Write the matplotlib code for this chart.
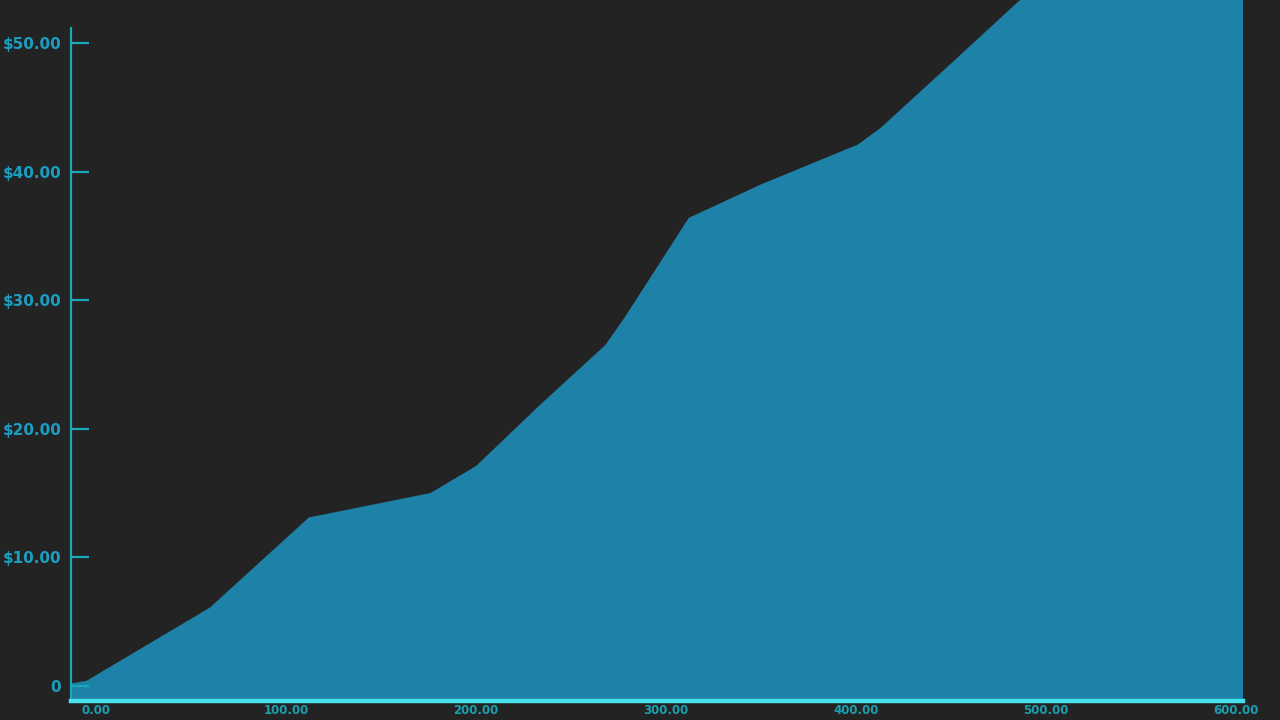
import matplotlib.pyplot as plt

# values (cumulative curve)
x_vals = [-13, -5, 60, 112, 176, 200, 234, 268, 278, 312, 350, 401, 413, 450, 486, 604]
y_vals = [0.2, 0.4, 6.1, 13.1, 15.0, 17.1, 21.9, 26.5, 28.6, 36.4, 39.0, 42.1, 43.4, 48.4, 53.3, 64.0]

y_ticks = [0, 10, 20, 30, 40, 50]
y_labels = ['0', '$10.00', '$20.00', '$30.00', '$40.00', '$50.00']
x_ticks = [0, 100, 200, 300, 400, 500, 600]
x_labels = ['0.00', '100.00', '200.00', '300.00', '400.00', '500.00', '600.00']

bg = '#232323'
fig = plt.figure(figsize=(12.8, 7.2), dpi=100, facecolor=bg)
# axes from pixel y=0 down to y=701, x from 71 to 1243
ax = fig.add_axes([0.0555, 0.0264, 0.9156, 0.9736], facecolor=bg)

y_bottom = -1.17
ax.fill_between(x_vals, y_vals, y_bottom, color='#1e81a7', linewidth=0)

ax.set_xlim(-13.16, 603.7)
ax.set_ylim(y_bottom, 53.34)

for side in ['top', 'right']:
    ax.spines[side].set_visible(False)
ax.spines['left'].set_color('#1aa9ba')
ax.spines['left'].set_linewidth(1.6)
ax.spines['left'].set_bounds(y_bottom, 51.2)
ax.spines['bottom'].set_color('#45e2ee')
ax.spines['bottom'].set_linewidth(3.2)
ax.spines['bottom'].set_zorder(5)

ax.set_yticks(y_ticks)
ax.set_yticklabels(y_labels)
ax.tick_params(axis='y', direction='in', length=13, width=1.6, color='#1aa9ba',
               labelcolor='#1a9fc2', labelsize=11, pad=7)
ax.set_xticks(x_ticks)
ax.set_xticklabels(x_labels)
ax.tick_params(axis='x', length=0, labelcolor='#1a9fb0', labelsize=8.5, pad=2.5)
for lab in ax.get_yticklabels() + ax.get_xticklabels():
    lab.set_fontweight('bold')

fig.savefig('out.png', dpi=100, facecolor=bg)
